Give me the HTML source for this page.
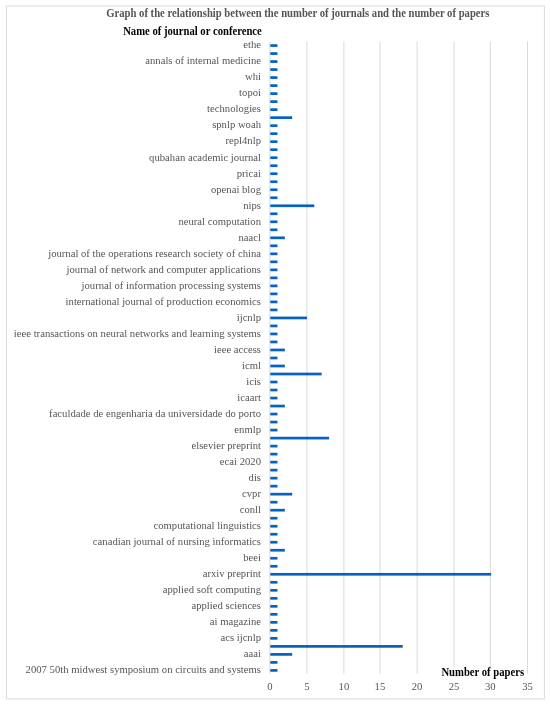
<!DOCTYPE html><html><head><meta charset="utf-8"><title>Graph of the relationship between the number of journals and the number of papers</title><style>html,body{margin:0;padding:0;background:#fff;overflow:hidden;}svg{display:block;}text{font-family:"Liberation Serif","Times New Roman",serif;}</style></head><body>
<svg width="550" height="705" viewBox="0 0 550 705">
<rect x="0" y="0" width="550" height="705" fill="#fff"/>
<path d="M6.4 6.0V698.9M544.4 6.0V698.9M5.9 6.0H544.9M5.9 698.9H544.9" fill="none" stroke="#dadada" stroke-width="1"/>
<line x1="269.80" y1="41.60" x2="269.80" y2="673.60" stroke="#d9d9d9" stroke-width="1.0"/>
<line x1="306.90" y1="41.60" x2="306.90" y2="673.60" stroke="#d9d9d9" stroke-width="1.0"/>
<line x1="343.90" y1="41.60" x2="343.90" y2="673.60" stroke="#d9d9d9" stroke-width="1.0"/>
<line x1="379.90" y1="41.60" x2="379.90" y2="673.60" stroke="#d9d9d9" stroke-width="1.0"/>
<line x1="417.10" y1="41.60" x2="417.10" y2="673.60" stroke="#d9d9d9" stroke-width="1.0"/>
<line x1="454.00" y1="41.60" x2="454.00" y2="673.60" stroke="#d9d9d9" stroke-width="1.0"/>
<line x1="490.30" y1="41.60" x2="490.30" y2="673.60" stroke="#d9d9d9" stroke-width="1.0"/>
<line x1="527.50" y1="41.60" x2="527.50" y2="673.60" stroke="#d9d9d9" stroke-width="1.0"/>
<rect x="270.30" y="44.21" width="7.17" height="2.70" fill="#0562c1"/>
<rect x="270.30" y="52.22" width="7.17" height="2.70" fill="#0562c1"/>
<rect x="270.30" y="60.23" width="7.17" height="2.70" fill="#0562c1"/>
<rect x="270.30" y="68.24" width="7.17" height="2.70" fill="#0562c1"/>
<rect x="270.30" y="76.25" width="7.17" height="2.70" fill="#0562c1"/>
<rect x="270.30" y="84.26" width="7.17" height="2.70" fill="#0562c1"/>
<rect x="270.30" y="92.27" width="7.17" height="2.70" fill="#0562c1"/>
<rect x="270.30" y="100.28" width="7.17" height="2.70" fill="#0562c1"/>
<rect x="270.30" y="108.29" width="7.17" height="2.70" fill="#0562c1"/>
<rect x="270.30" y="116.30" width="21.90" height="2.70" fill="#0562c1"/>
<rect x="270.30" y="124.32" width="7.17" height="2.70" fill="#0562c1"/>
<rect x="270.30" y="132.33" width="7.17" height="2.70" fill="#0562c1"/>
<rect x="270.30" y="140.34" width="7.17" height="2.70" fill="#0562c1"/>
<rect x="270.30" y="148.35" width="7.17" height="2.70" fill="#0562c1"/>
<rect x="270.30" y="156.36" width="7.17" height="2.70" fill="#0562c1"/>
<rect x="270.30" y="164.37" width="7.17" height="2.70" fill="#0562c1"/>
<rect x="270.30" y="172.38" width="7.17" height="2.70" fill="#0562c1"/>
<rect x="270.30" y="180.39" width="7.17" height="2.70" fill="#0562c1"/>
<rect x="270.30" y="188.40" width="7.17" height="2.70" fill="#0562c1"/>
<rect x="270.30" y="196.41" width="7.17" height="2.70" fill="#0562c1"/>
<rect x="270.30" y="204.43" width="44.01" height="2.70" fill="#0562c1"/>
<rect x="270.30" y="212.44" width="7.17" height="2.70" fill="#0562c1"/>
<rect x="270.30" y="220.45" width="7.17" height="2.70" fill="#0562c1"/>
<rect x="270.30" y="228.46" width="7.17" height="2.70" fill="#0562c1"/>
<rect x="270.30" y="236.47" width="14.54" height="2.70" fill="#0562c1"/>
<rect x="270.30" y="244.48" width="7.17" height="2.70" fill="#0562c1"/>
<rect x="270.30" y="252.49" width="7.17" height="2.70" fill="#0562c1"/>
<rect x="270.30" y="260.50" width="7.17" height="2.70" fill="#0562c1"/>
<rect x="270.30" y="268.51" width="7.17" height="2.70" fill="#0562c1"/>
<rect x="270.30" y="276.52" width="7.17" height="2.70" fill="#0562c1"/>
<rect x="270.30" y="284.54" width="7.17" height="2.70" fill="#0562c1"/>
<rect x="270.30" y="292.55" width="7.17" height="2.70" fill="#0562c1"/>
<rect x="270.30" y="300.56" width="7.17" height="2.70" fill="#0562c1"/>
<rect x="270.30" y="308.57" width="7.17" height="2.70" fill="#0562c1"/>
<rect x="270.30" y="316.58" width="36.64" height="2.70" fill="#0562c1"/>
<rect x="270.30" y="324.59" width="7.17" height="2.70" fill="#0562c1"/>
<rect x="270.30" y="332.60" width="7.17" height="2.70" fill="#0562c1"/>
<rect x="270.30" y="340.61" width="7.17" height="2.70" fill="#0562c1"/>
<rect x="270.30" y="348.62" width="14.54" height="2.70" fill="#0562c1"/>
<rect x="270.30" y="356.63" width="7.17" height="2.70" fill="#0562c1"/>
<rect x="270.30" y="364.65" width="14.54" height="2.70" fill="#0562c1"/>
<rect x="270.30" y="372.66" width="51.38" height="2.70" fill="#0562c1"/>
<rect x="270.30" y="380.67" width="7.17" height="2.70" fill="#0562c1"/>
<rect x="270.30" y="388.68" width="7.17" height="2.70" fill="#0562c1"/>
<rect x="270.30" y="396.69" width="7.17" height="2.70" fill="#0562c1"/>
<rect x="270.30" y="404.70" width="14.54" height="2.70" fill="#0562c1"/>
<rect x="270.30" y="412.71" width="7.17" height="2.70" fill="#0562c1"/>
<rect x="270.30" y="420.72" width="7.17" height="2.70" fill="#0562c1"/>
<rect x="270.30" y="428.73" width="7.17" height="2.70" fill="#0562c1"/>
<rect x="270.30" y="436.75" width="58.74" height="2.70" fill="#0562c1"/>
<rect x="270.30" y="444.76" width="7.17" height="2.70" fill="#0562c1"/>
<rect x="270.30" y="452.77" width="7.17" height="2.70" fill="#0562c1"/>
<rect x="270.30" y="460.78" width="7.17" height="2.70" fill="#0562c1"/>
<rect x="270.30" y="468.79" width="7.17" height="2.70" fill="#0562c1"/>
<rect x="270.30" y="476.80" width="7.17" height="2.70" fill="#0562c1"/>
<rect x="270.30" y="484.81" width="7.17" height="2.70" fill="#0562c1"/>
<rect x="270.30" y="492.82" width="21.90" height="2.70" fill="#0562c1"/>
<rect x="270.30" y="500.83" width="7.17" height="2.70" fill="#0562c1"/>
<rect x="270.30" y="508.84" width="14.54" height="2.70" fill="#0562c1"/>
<rect x="270.30" y="516.86" width="7.17" height="2.70" fill="#0562c1"/>
<rect x="270.30" y="524.87" width="7.17" height="2.70" fill="#0562c1"/>
<rect x="270.30" y="532.88" width="7.17" height="2.70" fill="#0562c1"/>
<rect x="270.30" y="540.89" width="7.17" height="2.70" fill="#0562c1"/>
<rect x="270.30" y="548.90" width="14.54" height="2.70" fill="#0562c1"/>
<rect x="270.30" y="556.91" width="7.17" height="2.70" fill="#0562c1"/>
<rect x="270.30" y="564.92" width="7.17" height="2.70" fill="#0562c1"/>
<rect x="270.30" y="572.93" width="220.84" height="2.70" fill="#0562c1"/>
<rect x="270.30" y="580.94" width="7.17" height="2.70" fill="#0562c1"/>
<rect x="270.30" y="588.95" width="7.17" height="2.70" fill="#0562c1"/>
<rect x="270.30" y="596.97" width="7.17" height="2.70" fill="#0562c1"/>
<rect x="270.30" y="604.98" width="7.17" height="2.70" fill="#0562c1"/>
<rect x="270.30" y="612.99" width="7.17" height="2.70" fill="#0562c1"/>
<rect x="270.30" y="621.00" width="7.17" height="2.70" fill="#0562c1"/>
<rect x="270.30" y="629.01" width="7.17" height="2.70" fill="#0562c1"/>
<rect x="270.30" y="637.02" width="7.17" height="2.70" fill="#0562c1"/>
<rect x="270.30" y="645.03" width="132.42" height="2.70" fill="#0562c1"/>
<rect x="270.30" y="653.04" width="21.90" height="2.70" fill="#0562c1"/>
<rect x="270.30" y="661.05" width="7.17" height="2.70" fill="#0562c1"/>
<rect x="270.30" y="669.06" width="7.17" height="2.70" fill="#0562c1"/>
<text transform="translate(261.00,48.36) scale(0.9615,1)" font-size="11.094" fill="#555555" text-anchor="end">ethe</text>
<text transform="translate(261.00,64.38) scale(0.9615,1)" font-size="11.094" fill="#555555" text-anchor="end">annals of internal medicine</text>
<text transform="translate(261.00,80.40) scale(0.9615,1)" font-size="11.094" fill="#555555" text-anchor="end">whi</text>
<text transform="translate(261.00,96.42) scale(0.9615,1)" font-size="11.094" fill="#555555" text-anchor="end">topoi</text>
<text transform="translate(261.00,112.44) scale(0.9615,1)" font-size="11.094" fill="#555555" text-anchor="end">technologies</text>
<text transform="translate(261.00,128.47) scale(0.9615,1)" font-size="11.094" fill="#555555" text-anchor="end">spnlp woah</text>
<text transform="translate(261.00,144.49) scale(0.9615,1)" font-size="11.094" fill="#555555" text-anchor="end">repl4nlp</text>
<text transform="translate(261.00,160.51) scale(0.9615,1)" font-size="11.094" fill="#555555" text-anchor="end">qubahan academic journal</text>
<text transform="translate(261.00,176.53) scale(0.9615,1)" font-size="11.094" fill="#555555" text-anchor="end">pricai</text>
<text transform="translate(261.00,192.55) scale(0.9615,1)" font-size="11.094" fill="#555555" text-anchor="end">openai blog</text>
<text transform="translate(261.00,208.58) scale(0.9615,1)" font-size="11.094" fill="#555555" text-anchor="end">nips</text>
<text transform="translate(261.00,224.60) scale(0.9615,1)" font-size="11.094" fill="#555555" text-anchor="end">neural computation</text>
<text transform="translate(261.00,240.62) scale(0.9615,1)" font-size="11.094" fill="#555555" text-anchor="end">naacl</text>
<text transform="translate(261.00,256.64) scale(0.9615,1)" font-size="11.094" fill="#555555" text-anchor="end">journal of the operations research society of china</text>
<text transform="translate(261.00,272.66) scale(0.9615,1)" font-size="11.094" fill="#555555" text-anchor="end">journal of network and computer applications</text>
<text transform="translate(261.00,288.69) scale(0.9615,1)" font-size="11.094" fill="#555555" text-anchor="end">journal of information processing systems</text>
<text transform="translate(261.00,304.71) scale(0.9615,1)" font-size="11.094" fill="#555555" text-anchor="end">international journal of production economics</text>
<text transform="translate(261.00,320.73) scale(0.9615,1)" font-size="11.094" fill="#555555" text-anchor="end">ijcnlp</text>
<text transform="translate(261.00,336.75) scale(0.9615,1)" font-size="11.094" fill="#555555" text-anchor="end">ieee transactions on neural networks and learning systems</text>
<text transform="translate(261.00,352.77) scale(0.9615,1)" font-size="11.094" fill="#555555" text-anchor="end">ieee access</text>
<text transform="translate(261.00,368.80) scale(0.9615,1)" font-size="11.094" fill="#555555" text-anchor="end">icml</text>
<text transform="translate(261.00,384.82) scale(0.9615,1)" font-size="11.094" fill="#555555" text-anchor="end">icis</text>
<text transform="translate(261.00,400.84) scale(0.9615,1)" font-size="11.094" fill="#555555" text-anchor="end">icaart</text>
<text transform="translate(261.00,416.86) scale(0.9615,1)" font-size="11.094" fill="#555555" text-anchor="end">faculdade de engenharia da universidade do porto</text>
<text transform="translate(261.00,432.88) scale(0.9615,1)" font-size="11.094" fill="#555555" text-anchor="end">enmlp</text>
<text transform="translate(261.00,448.91) scale(0.9615,1)" font-size="11.094" fill="#555555" text-anchor="end">elsevier preprint</text>
<text transform="translate(261.00,464.93) scale(0.9615,1)" font-size="11.094" fill="#555555" text-anchor="end">ecai 2020</text>
<text transform="translate(261.00,480.95) scale(0.9615,1)" font-size="11.094" fill="#555555" text-anchor="end">dis</text>
<text transform="translate(261.00,496.97) scale(0.9615,1)" font-size="11.094" fill="#555555" text-anchor="end">cvpr</text>
<text transform="translate(261.00,512.99) scale(0.9615,1)" font-size="11.094" fill="#555555" text-anchor="end">conll</text>
<text transform="translate(261.00,529.02) scale(0.9615,1)" font-size="11.094" fill="#555555" text-anchor="end">computational linguistics</text>
<text transform="translate(261.00,545.04) scale(0.9615,1)" font-size="11.094" fill="#555555" text-anchor="end">canadian journal of nursing informatics</text>
<text transform="translate(261.00,561.06) scale(0.9615,1)" font-size="11.094" fill="#555555" text-anchor="end">beei</text>
<text transform="translate(261.00,577.08) scale(0.9615,1)" font-size="11.094" fill="#555555" text-anchor="end">arxiv preprint</text>
<text transform="translate(261.00,593.10) scale(0.9615,1)" font-size="11.094" fill="#555555" text-anchor="end">applied soft computing</text>
<text transform="translate(261.00,609.13) scale(0.9615,1)" font-size="11.094" fill="#555555" text-anchor="end">applied sciences</text>
<text transform="translate(261.00,625.15) scale(0.9615,1)" font-size="11.094" fill="#555555" text-anchor="end">ai magazine</text>
<text transform="translate(261.00,641.17) scale(0.9615,1)" font-size="11.094" fill="#555555" text-anchor="end">acs ijcnlp</text>
<text transform="translate(261.00,657.19) scale(0.9615,1)" font-size="11.094" fill="#555555" text-anchor="end">aaai</text>
<text transform="translate(261.00,673.21) scale(0.9615,1)" font-size="11.094" fill="#555555" text-anchor="end">2007 50th midwest symposium on circuits and systems</text>
<text transform="translate(269.80,689.80) scale(0.9615,1)" font-size="11.094" fill="#555555" text-anchor="middle">0</text>
<text transform="translate(306.90,689.80) scale(0.9615,1)" font-size="11.094" fill="#555555" text-anchor="middle">5</text>
<text transform="translate(343.90,689.80) scale(0.9615,1)" font-size="11.094" fill="#555555" text-anchor="middle">10</text>
<text transform="translate(379.90,689.80) scale(0.9615,1)" font-size="11.094" fill="#555555" text-anchor="middle">15</text>
<text transform="translate(417.10,689.80) scale(0.9615,1)" font-size="11.094" fill="#555555" text-anchor="middle">20</text>
<text transform="translate(454.00,689.80) scale(0.9615,1)" font-size="11.094" fill="#555555" text-anchor="middle">25</text>
<text transform="translate(490.30,689.80) scale(0.9615,1)" font-size="11.094" fill="#555555" text-anchor="middle">30</text>
<text transform="translate(527.50,689.80) scale(0.9615,1)" font-size="11.094" fill="#555555" text-anchor="middle">35</text>
<text transform="translate(106.20,16.80) scale(0.9346,1)" font-size="11.414" fill="#555555" font-weight="bold">Graph of the relationship between the number of journals and the number of papers</text>
<text transform="translate(261.80,34.50) scale(0.9346,1)" font-size="11.414" fill="#000" font-weight="bold" text-anchor="end">Name of journal or conference</text>
<rect x="438" y="667.6" width="88" height="11" fill="#fff"/>
<text transform="translate(524.10,675.60) scale(0.9346,1)" font-size="11.414" fill="#000" font-weight="bold" text-anchor="end">Number of papers</text>
</svg></body></html>
